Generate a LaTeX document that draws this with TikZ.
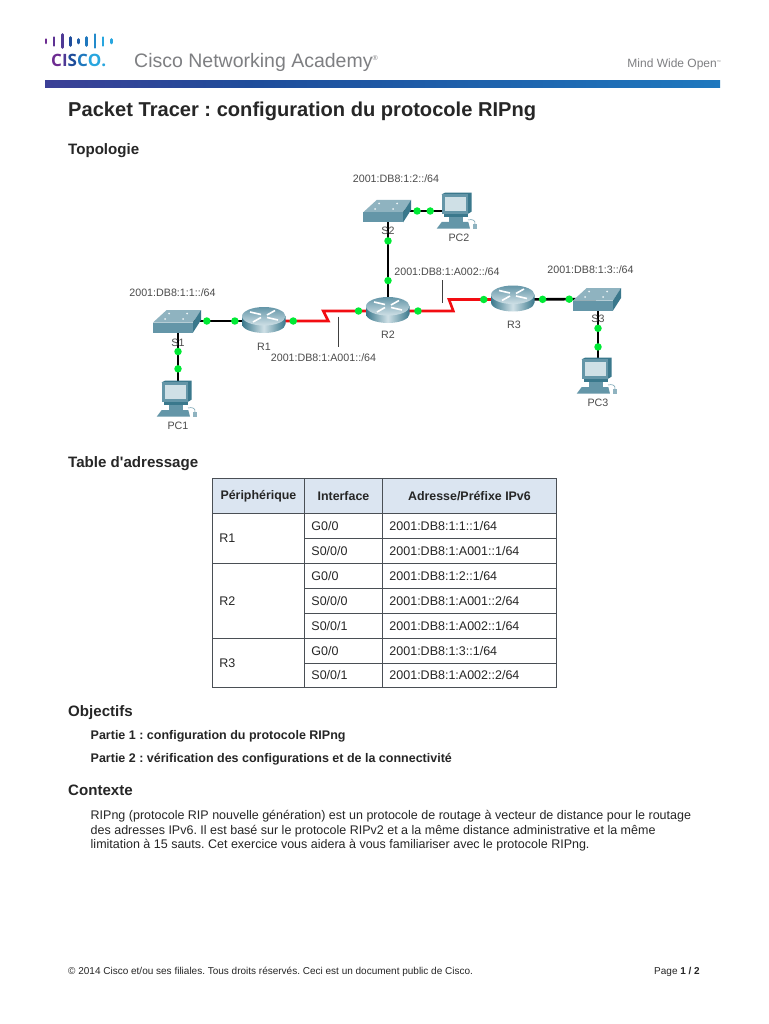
\documentclass[tikz,border=0pt]{standalone}
\usepackage{fontspec}
\setmainfont{Liberation Sans}[Ligatures=TeXOff]
\newfontfamily\logofont[LetterSpace=19]{Open Sans}
\frenchspacing
\definecolor{barpurple}{HTML}{6D2C91}
\definecolor{bardark}{HTML}{1F4C9A}
\definecolor{barmid}{HTML}{1F78BE}
\definecolor{barcyan}{HTML}{28A6DF}
\definecolor{logogray}{HTML}{7E7F82}
\definecolor{linkgreen}{HTML}{00EA35}
\definecolor{linkred}{HTML}{F20D12}
\definecolor{headfill}{HTML}{DBE5F1}
\definecolor{gridgray}{HTML}{4A4F55}
\definecolor{devtop}{HTML}{8FB3C0}
\definecolor{devfront}{HTML}{6496A8}
\definecolor{devside}{HTML}{3A788C}
\definecolor{devpale}{HTML}{CFE0E6}
\pgfdeclarehorizontalshading{barshade}{100bp}{color(0bp)=(barpurple); color(40bp)=(bardark); color(75bp)=(barmid); color(100bp)=(barcyan)}
\tikzset{
  switchicon/.pic={
    \fill[devtop] (-25,1.5) -- (-11.3,-11) -- (23,-11) -- (15,1.5) -- cycle;
    \fill[devfront] (-25,1.5) -- (15,1.5) -- (15,11.5) -- (-25,11.5) -- cycle;
    \fill[devside] (15,1.5) -- (23,-11) -- (23,-1) -- (15,11.5) -- cycle;
    \fill[white!85!devtop] (-9,-7.5) circle (1) (9,-7.5) circle (1) (-13,-2) circle (1) (5,-2) circle (1);
  },
  routericon/.pic={
    \shade[left color=devside, right color=devside, middle color=devpale] (-22,-5) -- (-22,3) .. controls (-22,8) and (-12,12) .. (0,12) .. controls (12,12) and (21.5,8) .. (21.5,3) -- (21.5,-5) -- cycle;
    \shade[top color=devfront, bottom color=devpale] (-22,-4.7) .. controls (-22,-9.8) and (-12,-14) .. (0,-14) .. controls (12,-14) and (21.5,-9.8) .. (21.5,-4.7) .. controls (21.5,0.4) and (12,4.5) .. (0,4.5) .. controls (-12,4.5) and (-22,0.4) .. cycle;
    \draw[white, line width=1.6] (-14,-9) -- (-3,-6.5) (14,-1) -- (3,-3.5) (11,-10.5) -- (3,-6) (-11,1) -- (-3,-3.5);
  },
  pcicon/.pic={
    \fill[devside] (-16.3,-16.7) -- (-13,-18.3) -- (13.7,-18.3) -- (13.7,0.5) -- (10.3,2.7) -- cycle;
    \fill[devfront] (-16.3,-16.7) rectangle (10.3,2.7);
    \fill[devpale] (-13,-14) rectangle (7.7,0.3);
    \fill[devside] (-14,2.7) rectangle (10.3,6);
    \fill[devfront] (-9,6) rectangle (5,11);
    \fill[devfront] (-21.3,17.7) -- (-16.3,11) -- (10.3,11) -- (12,17.7) -- cycle;
    \fill[devtop] (14.7,13) rectangle (19.3,17.7);
    \draw[devfront, line width=0.5] (17,13) .. controls (18,9) and (14,8) .. (10,9);
  }
}
\begin{document}
\begin{tikzpicture}[x=1pt, y=-1pt]
	% Define styles
	\tikzstyle{textline} = [anchor=west, inner sep=0pt, yshift=-1.7pt, text=black!85]
	\tikzstyle{bodytext} = [textline, font=\fontsize{12.5}{14}\selectfont]
	\tikzstyle{parttext} = [textline, font=\fontsize{12.5}{14}\selectfont\bfseries]
	\tikzstyle{headtext} = [textline, font=\fontsize{15.1}{17}\selectfont\bfseries]
	\tikzstyle{devlabel} = [inner sep=0pt, yshift=-1pt, text=black!70, font=\fontsize{10.7}{12}\selectfont]
	\tikzstyle{device} = [inner sep=0pt, minimum size=4pt]
	\tikzstyle{linkdot} = [circle, fill=linkgreen, inner sep=0pt, minimum size=7.5pt]
	\tikzstyle{lanlink} = [line width=2.6pt, black]
	\tikzstyle{wanlink} = [line width=2.6pt, linkred]
	\tikzstyle{netmark} = [line width=0.6pt, black!75]
	\tikzstyle{cell} = [rectangle, draw=gridgray, line width=0.9pt, anchor=north west, align=left, inner xsep=7pt, inner ysep=0pt, font=\fontsize{12.5}{14}\selectfont, text=black!85]
	\tikzstyle{headcell} = [cell, fill=headfill, align=center, inner xsep=0pt, font=\fontsize{12.4}{14}\selectfont\bfseries]
	\tikzstyle{logobar} = [line width=2.6pt, line cap=round]

	\useasboundingbox (0,0) rectangle (768,1024);
	\fill[white] (0,0) rectangle (768,1024);

	% Header
	\draw[logobar, barpurple] (46,39.5) -- (46,43);
	\draw[logobar, barpurple!80!bardark] (54,37.5) -- (54,45.5);
	\draw[logobar, barpurple!60!bardark] (62.3,34.5) -- (62.3,47.5);
	\draw[logobar, bardark] (70.3,37.5) -- (70.3,45.5);
	\draw[logobar, bardark!60!barmid] (78.7,39.5) -- (78.7,43);
	\draw[logobar, barmid] (86.7,37.5) -- (86.7,45.5);
	\draw[logobar, barmid!60!barcyan] (95,34.5) -- (95,47.5);
	\draw[logobar, barcyan] (103,37.5) -- (103,45.5);
	\draw[logobar, barcyan] (111.3,39.5) -- (111.3,43);
	\node[anchor=west, inner sep=0pt, font=\logofont\fontsize{17}{19}\selectfont\bfseries] (ciscoword) at (51,60.5) {\textcolor{barpurple}{C}\textcolor{barpurple!60!bardark}{I}\textcolor{bardark}{S}\textcolor{barmid}{C}\textcolor{barcyan}{O}\textcolor{barcyan}{.}};
	\node[anchor=west, inner sep=0pt, text=logogray, font=\fontsize{19.5}{24}\selectfont] (academy) at (134,62.5) {Cisco Networking Academy\raisebox{7pt}{\fontsize{7}{8}\selectfont ®}};
	\node[anchor=east, inner sep=0pt, text=logogray, font=\fontsize{12}{14}\selectfont] (slogan) at (721,64.5) {Mind Wide Open\raisebox{4pt}{\fontsize{4}{5}\selectfont ™}};
	\shade[shading=barshade] (45,80.5) rectangle (720,88);

	% Headings
	\node[textline, font=\fontsize{20.1}{22}\selectfont\bfseries] (title) at (68,110) {Packet Tracer : configuration du protocole RIPng};
	\node[headtext] (topology) at (68,149) {Topologie};
	\node[headtext] (addressing) at (68,462) {Table d'adressage};
	\node[headtext] (goals) at (68,711) {Objectifs};
	\node[parttext] (part1) at (90.5,735) {Partie 1 : configuration du protocole RIPng};
	\node[parttext] (part2) at (90.5,758) {Partie 2 : vérification des configurations et de la connectivité};
	\node[headtext] (context) at (68,789) {Contexte};
	\node[bodytext] (ctxa) at (90.5,814) {RIPng (protocole RIP nouvelle génération) est un protocole de routage à vecteur de distance pour le routage};
	\node[bodytext] (ctxb) at (90.5,829) {des adresses IPv6. Il est basé sur le protocole RIPv2 et a la même distance administrative et la même};
	\node[bodytext] (ctxc) at (90.5,843) {limitation à 15 sauts. Cet exercice vous aidera à vous familiariser avec le protocole RIPng.};

	% Devices
	\node[device] (S1) at (178,321) {};
	\node[device] (S2) at (388,211) {};
	\node[device] (S3) at (598,299) {};
	\node[device] (R1) at (264,321) {};
	\node[device] (R2) at (388,311) {};
	\node[device] (R3) at (513,299.5) {};
	\node[device] (PC1) at (178,399) {};
	\node[device] (PC2) at (458,211) {};
	\node[device] (PC3) at (598,376) {};
	\coordinate (k1) at (328.3,321);
	\coordinate (k2) at (323.3,311);
	\coordinate (k3) at (453.3,311);
	\coordinate (k4) at (449,299.5);
	\coordinate (m1a) at (338.3,316.7);
	\coordinate (m1b) at (338.3,347.3);
	\coordinate (m2a) at (442,280);
	\coordinate (m2b) at (442,303.3);

	% Links
	\draw[lanlink] (S1) -- node[linkdot, pos=.326] (d1) {} node[linkdot, pos=.67] (d2) {} (R1);
	\draw[lanlink] (S1) -- node[linkdot, pos=.385] (d3) {} node[linkdot, pos=.62] (d4) {} (PC1);
	\draw[lanlink] (S2) -- node[linkdot, pos=.29] (d5) {} node[linkdot, pos=.705] (d6) {} (R2);
	\draw[lanlink] (S2) -- node[linkdot, pos=.41] (d7) {} node[linkdot, pos=.61] (d8) {} (PC2);
	\draw[lanlink] (R3) -- node[linkdot, pos=.34] (d9) {} node[linkdot, pos=.67] (d10) {} (S3);
	\draw[lanlink] (S3) -- node[linkdot, pos=.373] (d11) {} node[linkdot, pos=.63] (d12) {} (PC3);
	\draw[wanlink] (R1) -- node[linkdot, pos=.435] (d13) {} (k1) -- (k2) -- node[linkdot, pos=.563] (d14) {} (R2);
	\draw[wanlink] (R2) -- node[linkdot, pos=.44] (d15) {} (k3) -- (k4) -- node[linkdot, pos=.5625] (d16) {} (R3);
	\draw[netmark] (m1a) -- (m1b);
	\draw[netmark] (m2a) -- (m2b);

	% Icons
	\pic at (S1) {switchicon};
	\pic at (S2) {switchicon};
	\pic at (S3) {switchicon};
	\pic at (R1) {routericon};
	\pic at (R2) {routericon};
	\pic at (R3) {routericon};
	\pic at (PC1) {pcicon};
	\pic at (PC2) {pcicon};
	\pic at (PC3) {pcicon};

	% Labels
	\node[devlabel] (net1) at (172.5,292) {2001:DB8:1:1::/64};
	\node[devlabel] (net2) at (396,178) {2001:DB8:1:2::/64};
	\node[devlabel] (net3) at (590.5,269) {2001:DB8:1:3::/64};
	\node[devlabel] (wan1) at (323.5,357) {2001:DB8:1:A001::/64};
	\node[devlabel] (wan2) at (447,271) {2001:DB8:1:A002::/64};
	\node[devlabel] (labS1) at (178,342) {S1};
	\node[devlabel] (labS2) at (388,230) {S2};
	\node[devlabel] (labS3) at (598,318) {S3};
	\node[devlabel] (labR1) at (264,346) {R1};
	\node[devlabel] (labR2) at (388,334) {R2};
	\node[devlabel] (labR3) at (514,324) {R3};
	\node[devlabel] (labPC1) at (178,425) {PC1};
	\node[devlabel] (labPC2) at (459,237) {PC2};
	\node[devlabel] (labPC3) at (598,402) {PC3};

	% Table
	\node[headcell, minimum width=92pt, minimum height=35pt] (hdev) at (212,478) {Périphérique};
	\node[headcell, minimum width=78pt, minimum height=35pt] (hif) at (304,478) {Interface};
	\node[headcell, minimum width=174pt, minimum height=35pt] (haddr) at (382,478) {Adresse/Préfixe IPv6};
	\node[cell, text width=78pt, minimum height=50pt] (rowR1) at (212,513) {R1};
	\node[cell, text width=78pt, minimum height=75pt] (rowR2) at (212,563) {R2};
	\node[cell, text width=78pt, minimum height=49pt] (rowR3) at (212,638) {R3};
	\node[cell, text width=64pt, minimum height=25pt] (ifa) at (304,513) {G0/0};
	\node[cell, text width=64pt, minimum height=25pt] (ifb) at (304,538) {S0/0/0};
	\node[cell, text width=64pt, minimum height=25pt] (ifc) at (304,563) {G0/0};
	\node[cell, text width=64pt, minimum height=25pt] (ifd) at (304,588) {S0/0/0};
	\node[cell, text width=64pt, minimum height=25pt] (ife) at (304,613) {S0/0/1};
	\node[cell, text width=64pt, minimum height=25pt] (iff) at (304,638) {G0/0};
	\node[cell, text width=64pt, minimum height=24pt] (ifg) at (304,663) {S0/0/1};
	\node[cell, text width=160pt, minimum height=25pt] (ipa) at (382,513) {2001:DB8:1:1::1/64};
	\node[cell, text width=160pt, minimum height=25pt] (ipb) at (382,538) {2001:DB8:1:A001::1/64};
	\node[cell, text width=160pt, minimum height=25pt] (ipc) at (382,563) {2001:DB8:1:2::1/64};
	\node[cell, text width=160pt, minimum height=25pt] (ipd) at (382,588) {2001:DB8:1:A001::2/64};
	\node[cell, text width=160pt, minimum height=25pt] (ipe) at (382,613) {2001:DB8:1:A002::1/64};
	\node[cell, text width=160pt, minimum height=25pt] (ipf) at (382,638) {2001:DB8:1:3::1/64};
	\node[cell, text width=160pt, minimum height=24pt] (ipg) at (382,663) {2001:DB8:1:A002::2/64};

	% Footer
	\node[textline, font=\fontsize{10}{12}\selectfont] (copyright) at (68,970) {© 2014 Cisco et/ou ses filiales. Tous droits réservés. Ceci est un document public de Cisco.};
	\node[anchor=east, inner sep=0pt, yshift=-1.7pt, text=black!85, font=\fontsize{10}{12}\selectfont] (pageno) at (700,970) {Page \textbf{1 / 2}};
\end{tikzpicture}
\end{document}
